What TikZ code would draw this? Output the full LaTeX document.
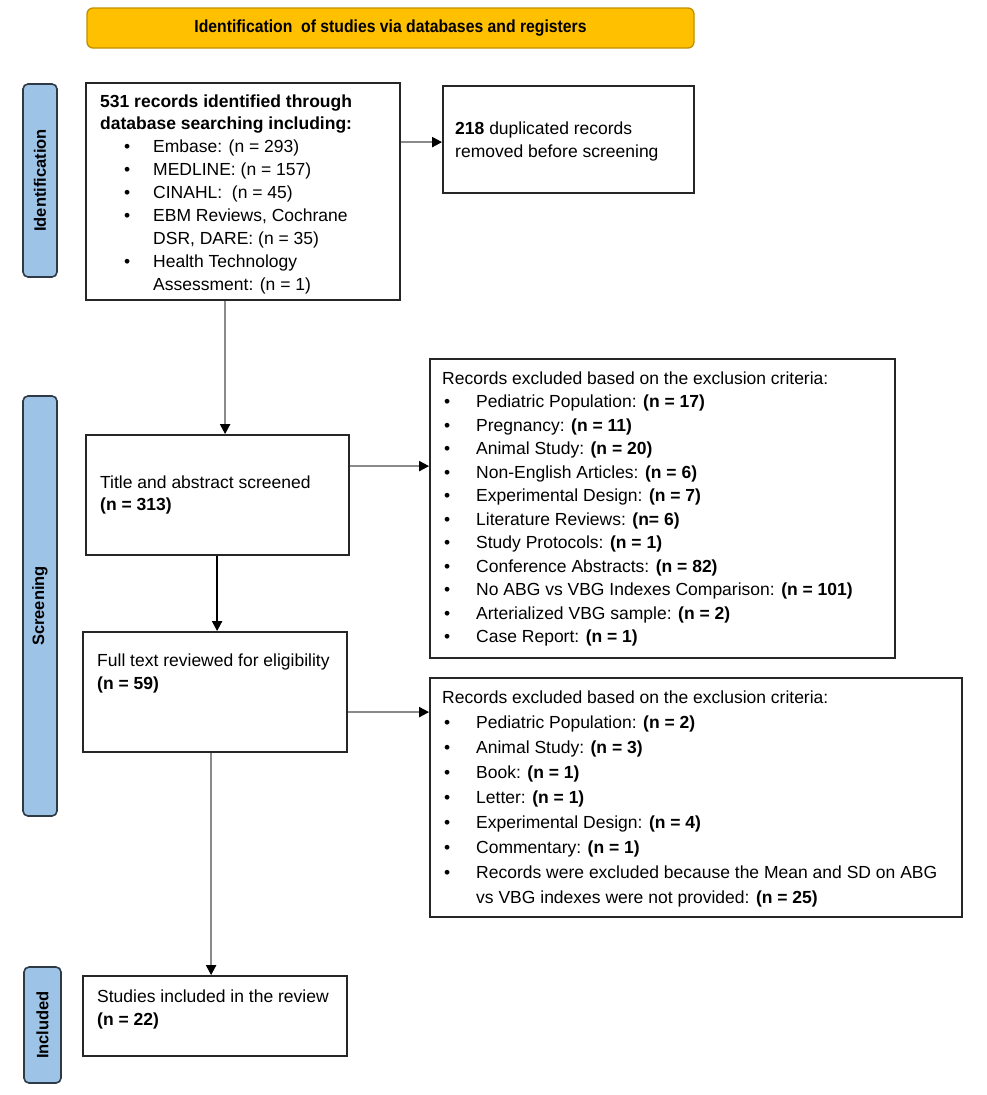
\documentclass[tikz,border=0pt]{standalone}
\usepackage{fontspec}
\setmainfont{Liberation Sans}
\newfontfamily\bannerfont[FakeStretch=0.9]{Liberation Sans}
\usetikzlibrary{arrows.meta,calc}
\definecolor{banfill}{HTML}{FFC000}
\definecolor{banedge}{HTML}{BF9000}
\definecolor{labfill}{HTML}{9DC3E6}
\definecolor{labedge}{HTML}{2E3A46}
\definecolor{conncol}{HTML}{8A8A8A}
\definecolor{boxedge}{HTML}{262626}
\newcommand\Ls[2]{\vtop{\baselineskip=#1pt\lineskiplimit=-50pt\lineskip=0pt #2}}
\newcommand\Lh[1]{\hbox{#1}}
\newcommand\Bu[3]{\hbox{\hspace*{#1pt}\makebox[#2pt][l]{\textbullet}#3}}
\begin{document}
\begin{tikzpicture}[x=1pt,y=-1pt,
  box/.style={draw=boxedge,line width=1.8pt,fill=white,inner sep=0},
  txt/.style={inner sep=0,anchor=base west,font=\fontsize{17.5}{23}\selectfont},
  lab/.style={draw=labedge,fill=labfill,line width=1.6pt,rounded corners=5pt,inner sep=0,rotate=90,font=\fontsize{16.5}{18}\selectfont\bfseries},
  banner/.style={draw=banedge,fill=banfill,line width=1.3pt,rounded corners=6pt,inner sep=0,font=\fontsize{17.5}{20}\selectfont\bannerfont\bfseries},
  conn/.style={draw=conncol,line width=2pt,-{Triangle[length=10pt,width=10pt,color=black]}}]
\fill[white] (0,0) rectangle (986,1095);
\useasboundingbox (0,0) rectangle (986,1095);

% banner
\node[banner,minimum width=607,minimum height=40] (ban) at (390.5,28) {Identification\ \ of studies via databases and registers};

% phase labels
\node[lab,minimum width=193,minimum height=34] (L1) at (40,180.5) {Identification};
\node[lab,minimum width=420,minimum height=34] (L2) at (40,606) {Screening};
\node[lab,minimum width=116,minimum height=37] (L3) at (42.5,1025) {Included};

% boxes
\node[box,minimum width=314,minimum height=217] (b1) at (243,191.5) {};
\node[box,minimum width=251,minimum height=107] (b2) at (568.5,139.5) {};
\node[box,minimum width=263,minimum height=120] (b3) at (217.5,495) {};
\node[box,minimum width=465,minimum height=299] (b4) at (662.5,508.5) {};
\node[box,minimum width=264,minimum height=120] (b5) at (215,692) {};
\node[box,minimum width=532,minimum height=239] (b6) at (696,797.5) {};
\node[box,minimum width=264,minimum height=80] (b7) at (215,1016) {};

% texts
\node[txt] (b1t) at (100,107) {\Ls{22.9}{%
  \Lh{\bfseries 531 records identified through}%
  \Lh{\bfseries database searching including:}%
  \Bu{24}{29}{Embase: (n = 293)}%
  \Bu{24}{29}{MEDLINE: (n = 157)}%
  \Bu{24}{29}{CINAHL:\ \ (n = 45)}%
  \Bu{24}{29}{EBM Reviews, Cochrane}%
  \Lh{\hspace*{53pt}DSR, DARE: (n = 35)}%
  \Bu{24}{29}{Health Technology}%
  \Lh{\hspace*{53pt}Assessment: (n = 1)}}};

\node[txt] (b2t) at (455,134) {\Ls{23}{%
  \Lh{\textbf{218} duplicated records}%
  \Lh{removed before screening}}};

\node[txt] (b3t) at (100,488) {\Ls{22.5}{%
  \Lh{Title and abstract screened}%
  \Lh{\bfseries (n = 313)}}};

\node[txt] (b4t) at (442,384) {\Ls{23.5}{%
  \Lh{Records excluded based on the exclusion criteria:}%
  \Bu{2}{32}{Pediatric Population: \textbf{(n = 17)}}%
  \Bu{2}{32}{Pregnancy: \textbf{(n = 11)}}%
  \Bu{2}{32}{Animal Study: \textbf{(n = 20)}}%
  \Bu{2}{32}{Non-English Articles: \textbf{(n = 6)}}%
  \Bu{2}{32}{Experimental Design: \textbf{(n = 7)}}%
  \Bu{2}{32}{Literature Reviews: \textbf{(n= 6)}}%
  \Bu{2}{32}{Study Protocols: \textbf{(n = 1)}}%
  \Bu{2}{32}{Conference Abstracts: \textbf{(n = 82)}}%
  \Bu{2}{32}{No ABG vs VBG Indexes Comparison: \textbf{(n = 101)}}%
  \Bu{2}{32}{Arterialized VBG sample: \textbf{(n = 2)}}%
  \Bu{2}{32}{Case Report: \textbf{(n = 1)}}}};

\node[txt] (b5t) at (97,666) {\Ls{23}{%
  \Lh{Full text reviewed for eligibility}%
  \Lh{\bfseries (n = 59)}}};

\node[txt] (b6t) at (442,703) {\Ls{25}{%
  \Lh{Records excluded based on the exclusion criteria:}%
  \Bu{2}{32}{Pediatric Population: \textbf{(n = 2)}}%
  \Bu{2}{32}{Animal Study: \textbf{(n = 3)}}%
  \Bu{2}{32}{Book: \textbf{(n = 1)}}%
  \Bu{2}{32}{Letter: \textbf{(n = 1)}}%
  \Bu{2}{32}{Experimental Design: \textbf{(n = 4)}}%
  \Bu{2}{32}{Commentary: \textbf{(n = 1)}}%
  \Bu{2}{32}{Records were excluded because the Mean and SD on ABG}%
  \Lh{\hspace*{34pt}vs VBG indexes were not provided: \textbf{(n = 25)}}}};

\node[txt] (b7t) at (97,1002) {\Ls{23}{%
  \Lh{Studies included in the review}%
  \Lh{\bfseries (n = 22)}}};

% connectors
\coordinate (a1) at ($(b1.north east)+(0,60)$);
\draw[conn] (a1) -- (a1 -| b2.west);
\coordinate (a2) at ($(b3.north east)+(0,32)$);
\draw[conn] (a2) -- (a2 -| b4.west);
\coordinate (a3) at ($(b5.north east)+(0,81)$);
\draw[conn] (a3) -- (a3 -| b6.west);
\coordinate (v1) at ($(b1.south west)+(140,0)$);
\draw[conn] (v1) -- (v1 |- b3.north);
\coordinate (v2) at ($(b3.south west)+(132,0)$);
\draw[conn,draw=black] (v2) -- (v2 |- b5.north);
\coordinate (v3) at ($(b5.south west)+(129,0)$);
\draw[conn] (v3) -- (v3 |- b7.north);
\end{tikzpicture}
\end{document}
